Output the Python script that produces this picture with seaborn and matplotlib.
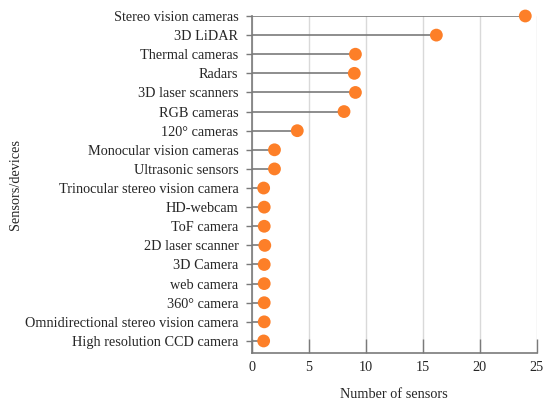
import matplotlib
matplotlib.use("Agg")
import matplotlib.pyplot as plt
import seaborn as sns
import pandas as pd

sensors = [
    "Stereo vision cameras", "3D LiDAR", "Thermal cameras", "Radars",
    "3D laser scanners", "RGB cameras", "120° cameras",
    "Monocular vision cameras", "Ultrasonic sensors",
    "Trinocular stereo vision camera", "HD-webcam", "ToF camera",
    "2D laser scanner", "3D Camera", "web camera", "360° camera",
    "Omnidirectional stereo vision camera", "High resolution CCD camera",
]
counts = [24, 16.2, 9.1, 9.0, 9.1, 8.1, 4, 2, 2,
          1.05, 1.1, 1.1, 1.15, 1.1, 1.1, 1.1, 1.1, 1.05]
x_ticks = [0, 5, 10, 15, 20, 25]

df = pd.DataFrame({"sensor": sensors, "count": counts})

sns.set_theme(style="white")
plt.rcParams["font.family"] = ["Liberation Serif", "DejaVu Serif"]

fig = plt.figure(figsize=(5.5, 4.05), dpi=100)
ax = fig.add_axes([0.4576, 0.1284, 0.5182, 0.8321])

pos = list(range(len(sensors)))
ax.hlines(pos, 0, df["count"], color="#7a7a7a", linewidth=1.2, zorder=2)
sns.scatterplot(data=df, x="count", y="sensor", ax=ax, color="#fd7f28",
                s=85, edgecolor="none", zorder=3, clip_on=False)

ax.set_xlim(0, 25)
ax.set_ylim(len(sensors) - 1 + 0.63, 0)
ax.set_xticks(x_ticks)
ax.set_yticks(pos)
ax.set_yticklabels(sensors)
ax.xaxis.grid(True, color="#d9d9d9", linewidth=1)
ax.set_axisbelow(True)

for s in ["top", "right"]:
    ax.spines[s].set_visible(False)
for s in ["left", "bottom"]:
    ax.spines[s].set_color("#7a7a7a")
    ax.spines[s].set_linewidth(1.2)

ax.tick_params(axis="x", direction="in", length=10, width=1, color="#7a7a7a",
               labelsize=10.3, pad=6, bottom=True)
ax.tick_params(axis="y", direction="out", length=4.5, width=1, color="#7a7a7a",
               labelsize=10.3, pad=5, left=True)

ax.set_xlabel("Number of sensors", fontsize=10.3, labelpad=10)
ax.set_ylabel("Sensors/devices", fontsize=10.3, labelpad=2)

fig.savefig("out.png", dpi=100)
